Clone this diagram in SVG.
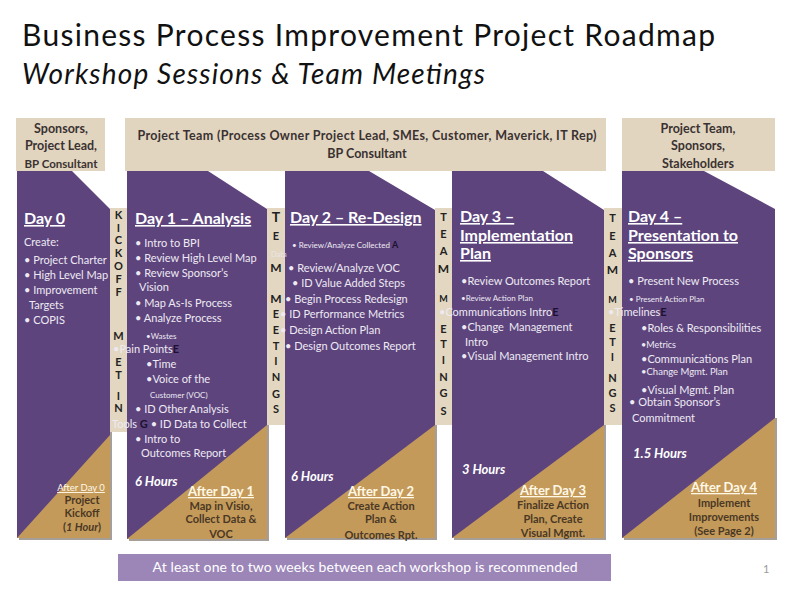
<svg xmlns="http://www.w3.org/2000/svg" width="790" height="593" viewBox="0 0 790 593">
<style>
text{font-family:Lato,"Liberation Sans",sans-serif}
.title{font-size:30px;fill:#111}
.sub{font-size:28px;font-style:italic;fill:#111}
.hdr{fill:#E2D5BF}
.hdrt{font-size:12.5px;font-weight:bold;fill:#3a3232;text-anchor:middle}
.pur{fill:#5D447D}
.gold{fill:#C49A5B}
.strip{fill:#E3D7C1}
.shadow{fill:#6a5f55;opacity:.6}
.day{font-size:16px;font-weight:bold;fill:#fff;text-decoration:underline}
.b{font-size:11px;fill:#EEEAF3}
.s{font-size:8px;fill:#EEEAF3}
.dk{fill:#1c1030;font-weight:bold}
.ltr{font-size:11px;font-weight:bold;fill:#222;text-anchor:middle}
.hrs{font-size:13px;font-weight:bold;font-style:italic;fill:#fff}
.aft{font-size:13px;font-weight:bold;fill:#FFF8E6;text-anchor:middle;text-decoration:underline}
.gt{font-size:11px;font-weight:bold;fill:#4a3824;text-anchor:middle}
</style>
<rect width="790" height="593" fill="#fff"/>
<g id="title">
<text class="title" x="22" y="46" textLength="693">Business Process Improvement Project Roadmap</text>
<text class="sub" x="22" y="84" textLength="463">Workshop Sessions &amp; Team Meetings</text>
</g>
<g id="headers">
<rect class="hdr" x="16" y="118" width="89" height="53"/>
<text class="hdrt" x="61" y="133">Sponsors,</text>
<text class="hdrt" x="61" y="150">Project Lead,</text>
<text class="hdrt" x="61" y="168" style="font-size:11.5px">BP Consultant</text>
<rect class="hdr" x="125" y="118" width="481" height="53"/>
<text class="hdrt" x="367" y="140" textLength="459">Project Team (Process Owner Project Lead, SMEs, Customer, Maverick, IT Rep)</text>
<text class="hdrt" x="367" y="158">BP Consultant</text>
<rect class="hdr" x="622" y="118" width="153" height="53"/>
<text class="hdrt" x="698" y="133">Project Team,</text>
<text class="hdrt" x="698" y="150">Sponsors,</text>
<text class="hdrt" x="698" y="168">Stakeholders</text>
</g>
<g id="shadows">
<rect class="shadow" x="19" y="425" width="93" height="115"/>
<rect class="shadow" x="129" y="425" width="140" height="116"/>
<rect class="shadow" x="287" y="425" width="150" height="115"/>
<rect class="shadow" x="454" y="425" width="152" height="115"/>
<rect class="shadow" x="624" y="418" width="153" height="122"/>
</g>
<g id="day0">
<polygon class="pur" points="17,171 72,171 110,209 110,538 17,538"/>
<polygon class="gold" points="17,538 110,538 110,435"/>
<text class="day" x="24" y="224">Day 0</text>
<text class="b" x="24" y="246">Create:</text>
<text class="b" x="24" y="264">• Project Charter</text>
<text class="b" x="24" y="279">• High Level Map</text>
<text class="b" x="24" y="294">• Improvement</text>
<text class="b" x="29" y="309">Targets</text>
<text class="b" x="24" y="324">• COPIS</text>
<text class="aft" x="81" y="491" style="font-size:9.5px;font-weight:normal">After Day 0</text>
<text class="gt" x="82" y="504">Project</text>
<text class="gt" x="82" y="517">Kickoff</text>
<text class="gt" x="82" y="531">(<tspan font-style="italic">1 Hour</tspan>)</text>
</g>
<g id="day1">
<polygon class="pur" points="127,171 208,171 267,209 267,539 127,539"/>
<polygon class="gold" points="127,539 267,539 267,425"/>
</g>
<g id="day2">
<polygon class="pur" points="285,171 369,171 435,210 435,538 285,538"/>
<polygon class="gold" points="285,538 435,538 435,425"/>
</g>
<g id="day3">
<polygon class="pur" points="452,171 543,171 604,210 604,538 452,538"/>
<polygon class="gold" points="452,538 604,538 604,425"/>
</g>
<g id="day4">
<polygon class="pur" points="622,171 704,171 775,209 775,538 622,538"/>
<polygon class="gold" points="622,538 775,538 775,418"/>
</g>
<g id="kickoff-strip">
<rect class="strip" x="110" y="208" width="17" height="224"/>
<text class="ltr" x="118.5" y="219">K</text>
<text class="ltr" x="118.5" y="232">I</text>
<text class="ltr" x="118.5" y="244">C</text>
<text class="ltr" x="118.5" y="257">K</text>
<text class="ltr" x="118.5" y="270">O</text>
<text class="ltr" x="118.5" y="283">F</text>
<text class="ltr" x="118.5" y="296">F</text>
<text class="ltr" x="118.5" y="340">M</text>
<text class="ltr" x="118.5" y="366">E</text>
<text class="ltr" x="118.5" y="379">T</text>
<text class="ltr" x="118.5" y="400">I</text>
<text class="ltr" x="118.5" y="412">N</text>
</g>
<g id="team-strip-1">
<rect class="strip" x="267" y="208" width="18" height="217"/>
<text class="ltr" x="276" y="222" style="font-size:14px">T</text>
<text class="ltr" x="276" y="240">E</text>
<text class="ltr" x="276" y="272" style="font-size:12px">M</text>
<text class="ltr" x="276" y="303" style="font-size:12px">M</text>
<text class="ltr" x="276" y="318">E</text>
<text class="ltr" x="276" y="334">E</text>
<text class="ltr" x="276" y="350">T</text>
<text class="ltr" x="276" y="365">I</text>
<text class="ltr" x="276" y="381">N</text>
<text class="ltr" x="276" y="398">G</text>
<text class="ltr" x="276" y="413">S</text>
</g>
<g id="team-strip-2">
<rect class="strip" x="435" y="208" width="17" height="217"/>
<text class="ltr" x="443.5" y="221">T</text>
<text class="ltr" x="443.5" y="238">E</text>
<text class="ltr" x="443.5" y="255">A</text>
<text class="ltr" x="443.5" y="273" style="font-size:12px">M</text>
<text class="ltr" x="443.5" y="302" style="font-size:9px">M</text>
<text class="ltr" x="443.5" y="333">E</text>
<text class="ltr" x="443.5" y="348">T</text>
<text class="ltr" x="443.5" y="364">I</text>
<text class="ltr" x="443.5" y="381">N</text>
<text class="ltr" x="443.5" y="397">G</text>
<text class="ltr" x="443.5" y="415">S</text>
</g>
<g id="team-strip-3">
<rect class="strip" x="604" y="208" width="18" height="217"/>
<text class="ltr" x="612.5" y="222">T</text>
<text class="ltr" x="612.5" y="240">E</text>
<text class="ltr" x="612.5" y="257">A</text>
<text class="ltr" x="612.5" y="274" style="font-size:12px">M</text>
<text class="ltr" x="612.5" y="303" style="font-size:9px">M</text>
<text class="ltr" x="612.5" y="332">E</text>
<text class="ltr" x="612.5" y="346">T</text>
<text class="ltr" x="612.5" y="361">I</text>
<text class="ltr" x="612.5" y="382">N</text>
<text class="ltr" x="612.5" y="397">G</text>
<text class="ltr" x="612.5" y="412">S</text>
</g>
<g id="day1-text">
<text class="day" x="135" y="224">Day 1 – Analysis</text>
<text class="b" x="135" y="247">• Intro to BPI</text>
<text class="b" x="135" y="262">• Review High Level Map</text>
<text class="b" x="135" y="277">• Review Sponsor’s</text>
<text class="b" x="139" y="291">Vision</text>
<text class="b" x="135" y="307">• Map As-Is Process</text>
<text class="b" x="135" y="322">• Analyze Process</text>
<text class="s" x="146" y="339">•Wastes</text>
<text class="b" x="113" y="353">•Pain Points<tspan class="dk">E</tspan></text>
<text class="b" x="146" y="368">•Time</text>
<text class="b" x="146" y="383">•Voice of the</text>
<text class="s" x="150" y="398">Customer (VOC)</text>
<text class="b" x="135" y="413">• ID Other Analysis</text>
<text class="b" x="112" y="428">Tools <tspan class="dk">G</tspan> • ID Data to Collect</text>
<text class="b" x="135" y="443">• Intro to</text>
<text class="b" x="141" y="457">Outcomes Report</text>
<text class="hrs" x="135" y="486">6 Hours</text>
<text class="aft" x="221" y="496">After Day 1</text>
<text class="gt" x="221" y="510">Map in Visio,</text>
<text class="gt" x="221" y="523">Collect Data &amp;</text>
<text class="gt" x="221" y="538">VOC</text>
</g>
<g id="day2-text">
<text class="day" x="290" y="223">Day 2 – Re-Design</text>
<text class="s" x="292" y="248">• Review/Analyze Collected <tspan class="dk" style="font-size:9px">A</tspan></text>
<text class="s" x="271" y="257" style="font-size:7.5px;opacity:.8">Data</text>
<text class="b" x="288" y="272">• Review/Analyze VOC</text>
<text class="b" x="292" y="287">• ID Value Added Steps</text>
<text class="b" x="285" y="303">• Begin Process Redesign</text>
<text class="b" x="280" y="318">• ID Performance Metrics</text>
<text class="b" x="280" y="334">• Design Action Plan</text>
<text class="b" x="285" y="350">• Design Outcomes Report</text>
<text class="hrs" x="291" y="481">6 Hours</text>
<text class="aft" x="381" y="496">After Day 2</text>
<text class="gt" x="381" y="510">Create Action</text>
<text class="gt" x="381" y="523">Plan &amp;</text>
<text class="gt" x="381" y="539">Outcomes Rpt.</text>
</g>
<g id="day3-text">
<text class="day" x="460" y="222">Day 3 –</text>
<text class="day" x="460" y="241">Implementation</text>
<text class="day" x="460" y="259">Plan</text>
<text class="b" x="461" y="285">•Review Outcomes Report</text>
<text class="s" x="461" y="301">•Review Action Plan</text>
<text class="b" x="439" y="316">•Communications Intro<tspan class="dk">E</tspan></text>
<text class="b" x="461" y="331">•Change<tspan x="509">Management</tspan></text>
<text class="b" x="465" y="346">Intro</text>
<text class="b" x="461" y="360">•Visual Management Intro</text>
<text class="hrs" x="462" y="474">3 Hours</text>
<text class="aft" x="553" y="495">After Day 3</text>
<text class="gt" x="553" y="509">Finalize Action</text>
<text class="gt" x="553" y="523">Plan, Create</text>
<text class="gt" x="553" y="537">Visual Mgmt.</text>
</g>
<g id="day4-text">
<text class="day" x="628" y="222">Day 4 –</text>
<text class="day" x="628" y="241">Presentation to</text>
<text class="day" x="628" y="259">Sponsors</text>
<text class="b" x="628" y="285">• Present New Process</text>
<text class="s" x="629" y="302">• Present Action Plan</text>
<text class="b" x="608" y="316">•Timelines<tspan class="dk">E</tspan></text>
<text class="b" x="641" y="332">•Roles &amp; Responsibilities</text>
<text class="b" x="641" y="348" style="font-size:9px">•Metrics</text>
<text class="b" x="641" y="363">•Communications Plan</text>
<text class="b" x="641" y="375" style="font-size:9.5px">•Change Mgmt. Plan</text>
<text class="b" x="641" y="394">•Visual Mgmt. Plan</text>
<text class="b" x="629" y="406">• Obtain Sponsor’s</text>
<text class="b" x="632" y="422">Commitment</text>
<text class="hrs" x="633" y="458">1.5 Hours</text>
<text class="aft" x="724" y="492">After Day 4</text>
<text class="gt" x="724" y="507">Implement</text>
<text class="gt" x="724" y="521">Improvements</text>
<text class="gt" x="724" y="535">(See Page 2)</text>
</g>
<g id="connectors"></g>
<g id="footer">
<rect x="118" y="554" width="493" height="27" fill="#9C86B8"/>
<text x="365" y="572" text-anchor="middle" font-size="14" fill="#fff" textLength="425">At least one to two weeks between each workshop is recommended</text>
<text x="763" y="573" font-size="11" fill="#999">1</text>
</g>
</svg>
